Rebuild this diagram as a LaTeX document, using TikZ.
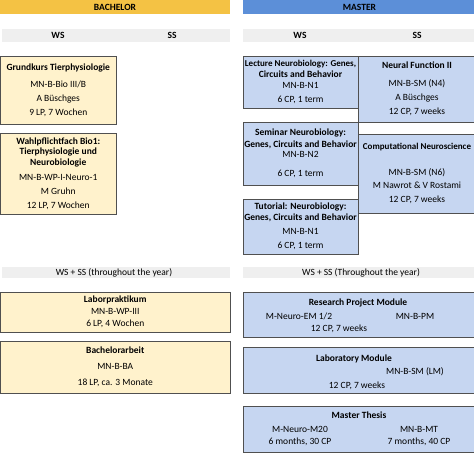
\documentclass[tikz,border=0pt]{standalone}
\usepackage{fontspec}
\setmainfont{Carlito}
\usepackage{xcolor}
\usetikzlibrary{positioning}
\definecolor{bachhead}{HTML}{F4C244}
\definecolor{masthead}{HTML}{5C8FD8}
\definecolor{bachfill}{HTML}{FFF2CC}
\definecolor{mastfill}{HTML}{C6D6F1}
\definecolor{bandgray}{HTML}{EFEFEF}
\definecolor{boxline}{HTML}{505050}
\tikzset{every node/.style={font=\fontsize{9.5}{11}\selectfont}}
\newcommand{\tighttitle}[1]{{\fontsize{9}{11}\selectfont\textbf{#1}}}

\begin{document}
\begin{tikzpicture}[
  x=1pt, y=-1pt,
  headbar/.style={
    inner sep=0pt,
    minimum height=14pt,
    font=\fontsize{9.5}{11}\selectfont\bfseries
  },
  band/.style={fill=bandgray, inner sep=0pt},
  modbox/.style={
    draw=boxline,
    line width=0.8pt,
    align=center,
    inner sep=0pt
  },
  bachbox/.style={modbox, fill=bachfill},
  mastbox/.style={modbox, fill=mastfill},
  txt/.style={inner sep=0pt},
  semtxt/.style={txt, font=\fontsize{9.5}{11}\selectfont\bfseries}
]
\useasboundingbox (0,0) rectangle (474,454);

% headers
\node[headbar, fill=bachhead, minimum width=230pt] (bach) at (115,7) {BACHELOR};
\node[headbar, fill=masthead, minimum width=233pt] (mast) at (359.5,7) {MASTER};

% semester bands
\node[band, minimum width=228pt, minimum height=13pt] (bsem) at (116,35.5) {};
\node[semtxt] (bws) at (58,35.5) {WS};
\node[semtxt] (bss) at (172,35.5) {SS};
\node[band, minimum width=233pt, minimum height=13pt] (msem) at (359.5,35.5) {};
\node[semtxt] (mws) at (300,35.5) {WS};
\node[semtxt] (mss) at (417,35.5) {SS};

% bachelor modules
\node[bachbox, minimum width=115.5pt, minimum height=68pt] (grund) at (58.25,90) {
\textbf{Grundkurs Tierphysiologie}\\[6pt]
MN-B-Bio III/B\\[3pt]
A Büschges\\[3pt]
9 LP, 7 Wochen
};

\node[bachbox, minimum width=115.5pt, minimum height=81pt] (wahl) at (58.25,173.5) {
\textbf{Wahlpflichtfach Bio1:}\\[-0.5pt]
\textbf{Tierphysiologie und}\\[-0.5pt]
\textbf{Neurobiologie}\\[4pt]
MN-B-WP-I-Neuro-1\\[3pt]
M Gruhn\\[3pt]
12 LP, 7 Wochen
};

% master modules
\node[mastbox, minimum width=115pt, minimum height=52pt] (lect) at (300.5,82) {
\tighttitle{Lecture Neurobiology: Genes,}\\
\textbf{Circuits and Behavior}\\
MN-B-N1\\[3pt]
6 CP, 1 term
};

\node[mastbox, minimum width=118pt, minimum height=66pt] (neur) at (417,89) {
\textbf{Neural Function II}\\[7pt]
MN-B-SM (N4)\\[3pt]
A Büschges\\[3pt]
12 CP, 7 weeks
};

\node[mastbox, minimum width=115pt, minimum height=63pt] (semi) at (300.5,153.5) {
\textbf{Seminar Neurobiology:}\\[1pt]
\textbf{Genes, Circuits and Behavior}\\[-1pt]
MN-B-N2\\[8pt]
6 CP, 1 term
};

\node[mastbox, minimum width=118pt, minimum height=79pt] (comp) at (417,173.5) {
\tighttitle{Computational Neuroscience}\\[15pt]
MN-B-SM (N6)\\[2pt]
M Nawrot \& V Rostami\\[3pt]
12 CP, 7 weeks
};

\node[mastbox, minimum width=115pt, minimum height=55pt] (tuto) at (300.5,226.5) {
\textbf{Tutorial: Neurobiology:}\\
\textbf{Genes, Circuits and Behavior}\\[3pt]
MN-B-N1\\[3pt]
6 CP, 1 term
};

% year-round bands
\node[band, minimum width=228pt, minimum height=11pt] (byear) at (116,272.5) {};
\node[txt] (byeartxt) at (114,272.5) {WS + SS (throughout the year)};
\node[band, minimum width=233pt, minimum height=11pt] (myear) at (359.5,272.5) {};
\node[txt] (myeartxt) at (361,272.5) {WS + SS (Throughout the year)};

% bachelor year-round modules
\node[bachbox, minimum width=229.5pt, minimum height=40pt] (labp) at (115.25,312) {
\textbf{Laborpraktikum}\\[1pt]
MN-B-WP-III\\[1pt]
6 LP, 4 Wochen
};

\node[bachbox, minimum width=229.5pt, minimum height=52pt] (bath) at (115.25,367) {
\textbf{Bachelorarbeit}\\[5pt]
MN-B-BA\\[5pt]
18 LP, ca. 3 Monate
};

% master year-round modules
\node[mastbox, minimum width=233pt, minimum height=45pt] (rpm) at (359.5,314.5) {};
\node[txt, font=\fontsize{9.5}{11}\selectfont\bfseries] (rpmtitle) at (358,303) {Research Project Module};
\node[txt] (rpmleft) at (299,316.5) {M-Neuro-EM 1/2};
\node[txt] (rpmright) at (415,316.5) {MN-B-PM};
\node[txt] (rpmcp) at (339,328.5) {12 CP, 7 weeks};

\node[mastbox, minimum width=233pt, minimum height=46pt] (labm) at (359.5,370) {};
\node[txt, font=\fontsize{9.5}{11}\selectfont\bfseries] (labmtitle) at (354,359) {Laboratory Module};
\node[txt] (labmright) at (415,371.5) {MN-B-SM (LM)};
\node[txt] (labmcp) at (357,385.5) {12 CP, 7 weeks};

\node[mastbox, minimum width=233pt, minimum height=46pt] (mthe) at (359.5,429) {};
\node[txt, font=\fontsize{9.5}{11}\selectfont\bfseries] (mthetitle) at (359,415) {Master Thesis};
\node[txt] (mtheleft) at (300,429) {M-Neuro-M20};
\node[txt] (mtheright) at (419,429) {MN-B-MT};
\node[txt] (mtheleftcp) at (300,442) {6 months, 30 CP};
\node[txt] (mtherightcp) at (419,442) {7 months, 40 CP};

\end{tikzpicture}
\end{document}
